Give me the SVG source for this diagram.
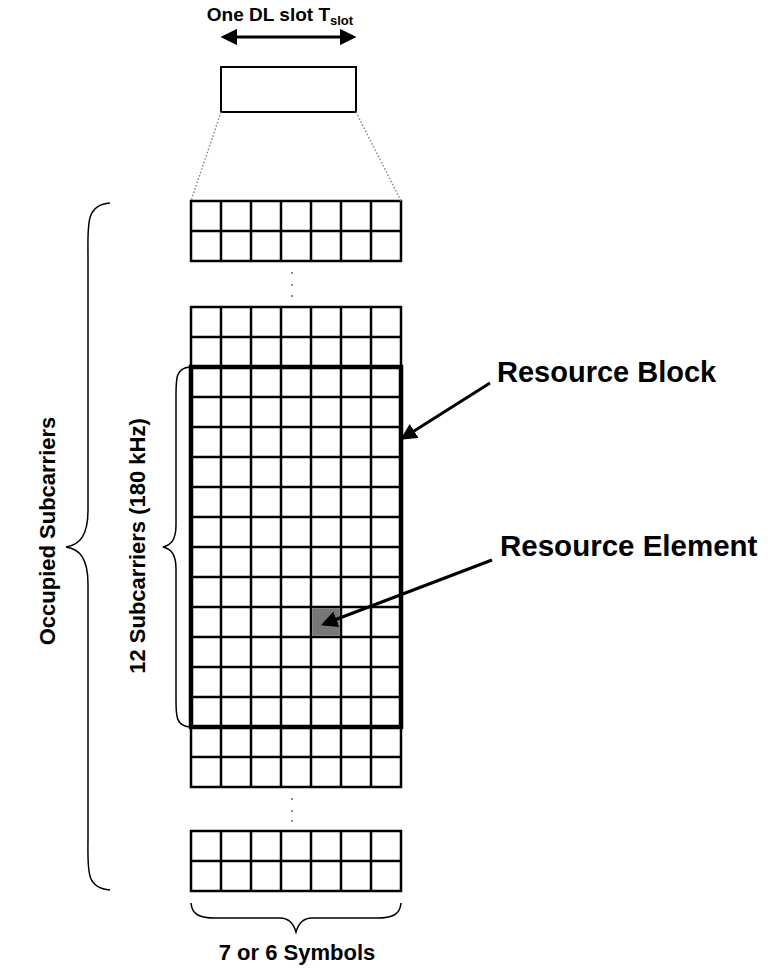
<svg xmlns="http://www.w3.org/2000/svg" width="768" height="972" viewBox="0 0 768 972">
<style>
text{font-family:"Liberation Sans",Arial,sans-serif;font-weight:bold;fill:#000}
.g{fill:none;stroke:#000;stroke-width:2.5}
.b{fill:none;stroke:#000;stroke-width:1.5}
.dot{stroke:#888;stroke-width:1.5;stroke-dasharray:1.5 2}
</style>
<defs>
<marker id="ah" viewBox="0 0 10 10" refX="8" refY="5" markerWidth="5.5" markerHeight="5.5" orient="auto-start-reverse"><path d="M0,0L10,5L0,10z" fill="#000"/></marker>
</defs>
<rect x="0" y="0" width="768" height="972" fill="#fff"/>
<g id="title"><text x="280" y="21" font-size="19" text-anchor="middle">One DL slot T<tspan font-size="13" dy="4">slot</tspan></text></g>
<g id="slot"><rect x="221" y="67" width="135" height="45" fill="none" stroke="#000" stroke-width="2"/></g>
<g id="grid-top"><rect x="191" y="201" width="210" height="60" class="g"/><path class="g" d="M191,231H401M221,201V261M251,201V261M281,201V261M311,201V261M341,201V261M371,201V261"/></g>
<g id="grid-mid"><rect x="191" y="307" width="210" height="480" class="g"/><path class="g" d="M191,337H401M191,367H401M191,397H401M191,427H401M191,457H401M191,487H401M191,517H401M191,547H401M191,577H401M191,607H401M191,637H401M191,667H401M191,697H401M191,727H401M191,757H401M221,307V787M251,307V787M281,307V787M311,307V787M341,307V787M371,307V787"/></g>
<g id="grid-bot"><rect x="191" y="831" width="210" height="60" class="g"/><path class="g" d="M191,861H401M221,831V891M251,831V891M281,831V891M311,831V891M341,831V891M371,831V891"/></g>
<g id="resource-element"><rect x="312.2" y="608.2" width="27.6" height="27.6" fill="#777"/></g>
<g id="resource-block"><rect x="191" y="367" width="210" height="360" fill="none" stroke="#000" stroke-width="4.5"/></g>
<g id="dots"><circle cx="292" cy="273" r="0.9" fill="#555"/><circle cx="292" cy="285" r="0.9" fill="#555"/><circle cx="292" cy="296" r="0.9" fill="#555"/><circle cx="292" cy="799" r="0.9" fill="#555"/><circle cx="292" cy="811" r="0.9" fill="#555"/><circle cx="292" cy="821" r="0.9" fill="#555"/></g>
<g id="connectors">
<line x1="224" y1="37" x2="353" y2="37" stroke="#000" stroke-width="3" marker-start="url(#ah)" marker-end="url(#ah)"/>
<line x1="221" y1="112" x2="191" y2="201" class="dot"/>
<line x1="356" y1="112" x2="401" y2="201" class="dot"/>
<line x1="490" y1="383" x2="403" y2="438" stroke="#000" stroke-width="3" marker-end="url(#ah)"/>
<line x1="492" y1="560" x2="324" y2="624" stroke="#000" stroke-width="3" marker-end="url(#ah)"/>
</g>
<g id="brace-occupied"><path d="M110,203 C85,205 88,225 88,260 L88,510 C88,535 80,545 66,547 C80,549 88,559 88,584 L88,835 C88,870 85,888 110,890" class="b"/><text transform="translate(55,531) rotate(-90)" font-size="22" text-anchor="middle">Occupied Subcarriers</text></g>
<g id="brace-12"><path d="M190,367 C176,368 176,378 176,395 L176,525 C176,540 171,545 163,547 C171,549 176,554 176,569 L176,700 C176,716 176,726 190,727" class="b"/><text transform="translate(145,546) rotate(-90)" font-size="22" text-anchor="middle">12 Subcarriers (180 kHz)</text></g>
<g id="brace-symbols"><path d="M191,903 C192,915 200,918 215,918 L280,918 C290,918 294,925 296,932 C298,925 302,918 312,918 L377,918 C392,918 400,915 401,903" class="b"/><text x="297" y="960" font-size="22" text-anchor="middle">7 or 6 Symbols</text></g>
<g id="label-rb"><text x="497" y="382" font-size="29">Resource Block</text></g>
<g id="label-re"><text x="500" y="556" font-size="29.5">Resource Element</text></g>
</svg>
